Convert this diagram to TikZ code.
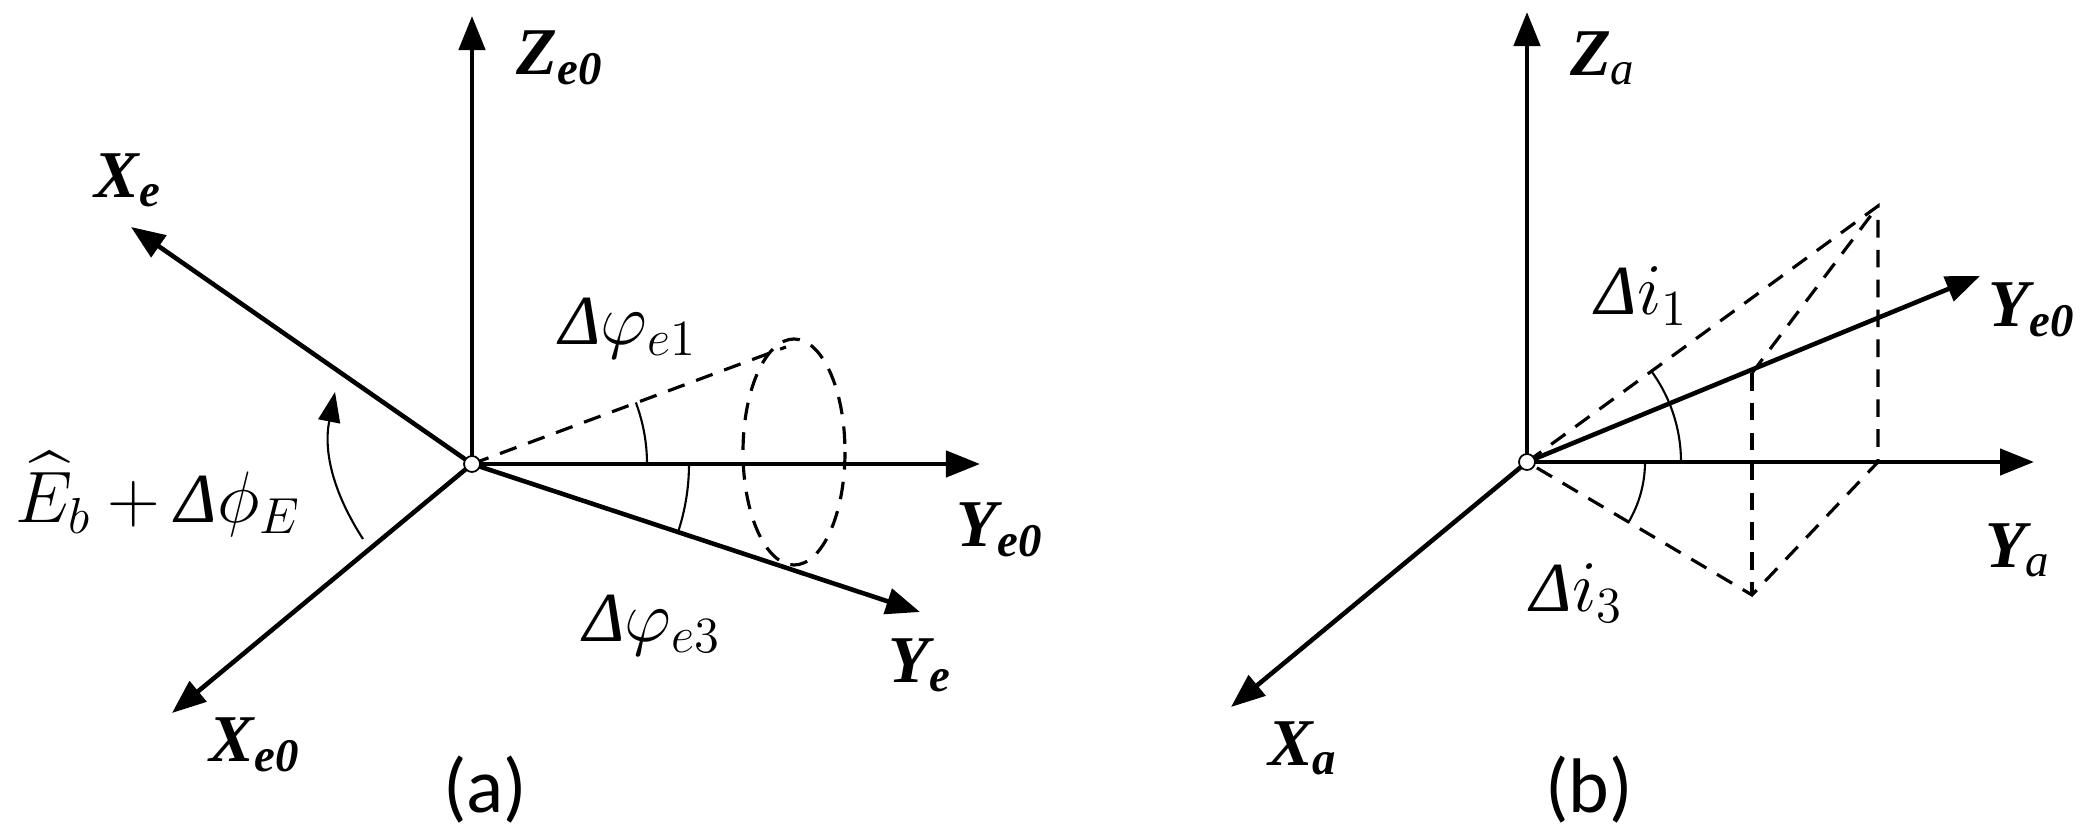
\documentclass[tikz,border=0pt]{standalone}
\usepackage{fontspec}
\usepackage{amsmath}
\setmainfont{Liberation Serif}
\newfontfamily\capfont{Carlito}
\newfontfamily\dfont{DejaVu Serif}
\newcommand{\Dl}{\text{\itshape Δ}}
\usetikzlibrary{arrows.meta}
\begin{document}
\begin{tikzpicture}[x=0.01cm,y=-0.01cm,
  axis/.style={line width=1.3pt,-{Triangle[length=0.34cm,width=0.26cm]}},
  dsh/.style={line width=0.9pt,dash pattern=on 5pt off 3.5pt},
  ang/.style={line width=0.6pt},
  lab/.style={font=\fontsize{19}{22}\selectfont\bfseries\itshape},
  mlab/.style={font=\fontsize{20}{24}\selectfont},
  captxt/.style={font=\fontsize{22}{26}\selectfont\capfont}]
\useasboundingbox (0,0) rectangle (2081,837);
% ---------- panel (a)
\coordinate (O) at (472,464);
\coordinate (Z) at (472,16);
\coordinate (Xe) at (131,227);
\coordinate (Xe0) at (172,713);
\coordinate (Ye0) at (980,464);
\coordinate (Ye) at (920,612);
\coordinate (D) at (786,347);
\draw[axis] (O) -- (Z);
\draw[axis] (O) -- (Xe);
\draw[axis] (O) -- (Xe0);
\draw[axis] (O) -- (Ye0);
\draw[axis] (O) -- (Ye);
\draw[dsh] (O) -- (D);
\draw[dsh] (794,452) ellipse [x radius=51, y radius=113];
\draw[ang] (O) ++(0:175) arc[start angle=0,end angle=-20.6,radius=175];
\draw[ang] (O) ++(0:217) arc[start angle=0,end angle=18.2,radius=217];
\coordinate (ea) at (363,539);
\coordinate (eb) at (335,392);
\draw[ang,-{Triangle[length=0.3cm,width=0.22cm]}] (ea) to[bend left=22] (eb);
\draw[fill=white,line width=0.5pt] (O) circle (8);
\node[lab] (lZ) at (560,58) {Z\textsubscript{\itshape e0}};
\node[lab] (lXe) at (128,180) {X\textsubscript{\itshape e}};
\node[lab] (lXe0) at (255,745) {X\textsubscript{\itshape e0}};
\node[lab] (lYe0) at (1000,530) {Y\textsubscript{\itshape e0}};
\node[lab] (lYe) at (920,665) {Y\textsubscript{\itshape e}};
\node[mlab] (p1) at (628,328) {$\Dl\varphi_{e1}$};
\node[mlab] (p3) at (652,625) {$\Dl\varphi_{e3}$};
\node[mlab] (ebl) at (158,494) {$\widehat{E}_b+\Dl\phi_E$};
\node[captxt] (ca) at (485,790) {(a)};
% ---------- panel (b)
\coordinate (P) at (1527,462);
\coordinate (Za) at (1527,12);
\coordinate (Ya) at (2034,462);
\coordinate (Yb) at (1980,276);
\coordinate (Xa) at (1231,707);
\coordinate (T) at (1878,206);
\coordinate (TB) at (1878,462);
\coordinate (B) at (1752,595);
\coordinate (M) at (1752,373);
\draw[axis] (P) -- (Za);
\draw[axis] (P) -- (Ya);
\draw[axis] (P) -- (Yb);
\draw[axis] (P) -- (Xa);
\draw[dsh] (P) -- (T) -- (TB) -- (B) -- (P);
\draw[dsh] (M) -- (T);
\draw[dsh] (M) -- (B);
\draw[ang] (P) ++(0:154) arc[start angle=0,end angle=-36,radius=154];
\draw[ang] (P) ++(0:118) arc[start angle=0,end angle=31,radius=118];
\draw[fill=white,line width=0.5pt] (P) circle (8);
\node[lab] (lZa) at (1603,58) {Z\textsubscript{\mdseries\itshape a}};
\node[lab] (lYa) at (2018,550) {Y\textsubscript{\mdseries\itshape a}};
\node[lab] (lYb) at (2032,310) {Y\textsubscript{\itshape e0}};
\node[lab] (lXa) at (1303,748) {X\textsubscript{\itshape a}};
\node[mlab] (i1) at (1642,296) {$\Dl i_1$};
\node[mlab] (i3) at (1577,593) {$\Dl i_3$};
\node[captxt] (cb) at (1589,790) {(b)};
\end{tikzpicture}
\end{document}
